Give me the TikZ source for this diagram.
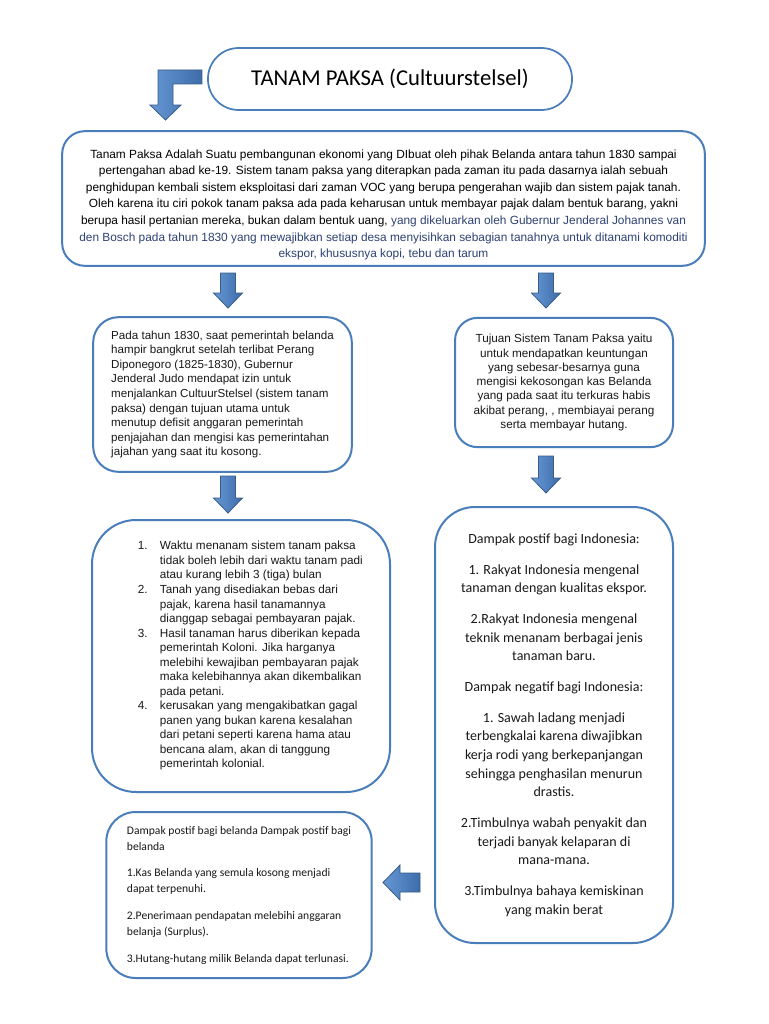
\documentclass[tikz,border=0pt]{standalone}
\usepackage{fontspec}
\setmainfont{Liberation Sans}
\newfontfamily\calib{Carlito}
\definecolor{boxblue}{RGB}{74,126,187}
\definecolor{arrlight}{RGB}{102,152,212}
\definecolor{arrdark}{RGB}{62,108,170}
\definecolor{arredge}{RGB}{56,93,138}
\definecolor{txtblue}{RGB}{45,65,115}
\definecolor{txt}{RGB}{25,25,25}
\tikzset{
  box/.style={draw=boxblue, line width=1.5pt, fill=white, text=txt, inner sep=0pt},
  blockarrow/.style={left color=arrlight, right color=arrdark, draw=arredge, line width=0.6pt, line join=miter},
  pics/downarr/.style n args={2}{code={
    \draw[blockarrow] (-7.5,0) -- (7.5,0) -- (7.5,#1) -- (14.5,#1) -- (0,#2) -- (-14.5,#1) -- (-7.5,#1) -- cycle;}}
}
\begin{document}
\begin{tikzpicture}[x=0.75pt,y=-0.75pt]
\useasboundingbox (0,0) rectangle (768,1024);
\fill[white] (0,0) rectangle (768,1024);

% title
\node[box, rounded corners=23pt, minimum width=273pt, minimum height=46.5pt, line width=1.3pt,
      font=\calib\fontsize{17}{20}\selectfont, text=black] (title) at (390,79) {TANAM PAKSA (Cultuurstelsel)};

% bent arrow
\draw[blockarrow] (202,70) -- (202,84) -- (173,84) -- (173,105) -- (181,105) -- (165.5,120) -- (150,105) -- (158,105) -- (158,70) -- cycle;

% box 1
\node[box, rounded corners=17pt, minimum width=482pt, minimum height=101pt, align=center, text=black,
      font=\fontsize{8.9}{12.4}\selectfont] (b1) at (383.5,198.5) {%
\rule{0pt}{16pt}Tanam Paksa Adalah Suatu pembangunan ekonomi yang DIbuat oleh pihak Belanda antara tahun 1830 sampai\\
pertengahan abad ke-19. Sistem tanam paksa yang diterapkan pada zaman itu pada dasarnya ialah sebuah\\
penghidupan kembali sistem eksploitasi dari zaman VOC yang berupa pengerahan wajib dan sistem pajak tanah.\\
Oleh karena itu ciri pokok tanam paksa ada pada keharusan untuk membayar pajak dalam bentuk barang, yakni\\
berupa hasil pertanian mereka, bukan dalam bentuk uang, \textcolor{txtblue}{yang dikeluarkan oleh Gubernur Jenderal Johannes van}\\
\textcolor{txtblue}{den Bosch pada tahun 1830 yang mewajibkan setiap desa menyisihkan sebagian tanahnya untuk ditanami komoditi}\\
\textcolor{txtblue}{ekspor, khususnya kopi, tebu dan tarum}};

% arrows below box 1
\pic at (228,273) {downarr={20}{35}};
\pic at (546,273) {downarr={20}{35}};

% box 2
\node[box, rounded corners=19pt, minimum width=194pt, minimum height=116pt, align=left,
      font=\fontsize{8.7}{10.9}\selectfont] (b2) at (222.5,394.5) {%
Pada tahun 1830, saat pemerintah belanda\\
hampir bangkrut setelah terlibat Perang\\
Diponegoro (1825-1830), Gubernur\\
Jenderal Judo mendapat izin untuk\\
menjalankan CultuurStelsel (sistem tanam\\
paksa) dengan tujuan utama untuk\\
menutup defisit anggaran pemerintah\\
penjajahan dan mengisi kas pemerintahan\\
jajahan yang saat itu kosong.};

% box 3
\node[box, rounded corners=17pt, minimum width=163.5pt, minimum height=97pt, align=center,
      font=\fontsize{8.8}{10.7}\selectfont] (b3) at (564,382.5) {%
Tujuan Sistem Tanam Paksa yaitu\\
untuk mendapatkan keuntungan\\
yang sebesar-besarnya guna\\
mengisi kekosongan kas Belanda\\
yang pada saat itu terkuras habis\\
akibat perang, , membiayai perang\\
serta membayar hutang.};

% arrows below box 2 and box 3
\pic at (228,476) {downarr={22}{37}};
\pic at (546,456) {downarr={22}{37}};

% box 4
\node[box, rounded corners=33pt, minimum width=223.5pt, minimum height=204pt,
      font=\fontsize{8.8}{10.9}\selectfont] (b4) at (241,656) {%
\hspace*{14pt}\begin{tabular}{@{}p{16.5pt}@{}l@{}}
1.&Waktu menanam sistem tanam paksa\\
&tidak boleh lebih dari waktu tanam padi\\
&atau kurang lebih 3 (tiga) bulan\\
2.&Tanah yang disediakan bebas dari\\
&pajak, karena hasil tanamannya\\
&dianggap sebagai pembayaran pajak.\\
3.&Hasil tanaman harus diberikan kepada\\
&pemerintah Koloni. Jika harganya\\
&melebihi kewajiban pembayaran pajak\\
&maka kelebihannya akan dikembalikan\\
&pada petani.\\
4.&kerusakan yang mengakibatkan gagal\\
&panen yang bukan karena kesalahan\\
&dari petani seperti karena hama atau\\
&bencana alam, akan di tanggung\\
&pemerintah kolonial.
\end{tabular}};

% box 5
\node[box, rounded corners=30pt, minimum width=178.5pt, minimum height=327pt, align=center,
      font=\calib\fontsize{10.5}{14}\selectfont] (b5) at (554,725) {%
Dampak postif bagi Indonesia:\\[9pt]
1. Rakyat Indonesia mengenal\\
tanaman dengan kualitas ekspor.\\[9pt]
2.Rakyat Indonesia mengenal\\
teknik menanam berbagai jenis\\
tanaman baru.\\[9pt]
Dampak negatif bagi Indonesia:\\[9pt]
1. Sawah ladang menjadi\\
terbengkalai karena diwajibkan\\
kerja rodi yang berkepanjangan\\
sehingga penghasilan menurun\\
drastis.\\[9pt]
2.Timbulnya wabah penyakit dan\\
terjadi banyak kelaparan di\\
mana-mana.\\[9pt]
3.Timbulnya bahaya kemiskinan\\
yang makin berat};

% left arrow
\draw[blockarrow] (420,873) -- (420,892) -- (400,892) -- (400,900) -- (383,882.5) -- (400,865) -- (400,873) -- cycle;

% box 6
\node[box, rounded corners=22pt, minimum width=199pt, minimum height=124.5pt, align=left,
      font=\calib\fontsize{8.7}{12}\selectfont] (b6) at (239,895) {%
Dampak postif bagi belanda Dampak postif bagi\\
belanda\\[8pt]
1.Kas Belanda yang semula kosong menjadi\\
dapat terpenuhi.\\[8pt]
2.Penerimaan pendapatan melebihi anggaran\\
belanja (Surplus).\\[8pt]
3.Hutang-hutang milik Belanda dapat terlunasi.};
\end{tikzpicture}
\end{document}
